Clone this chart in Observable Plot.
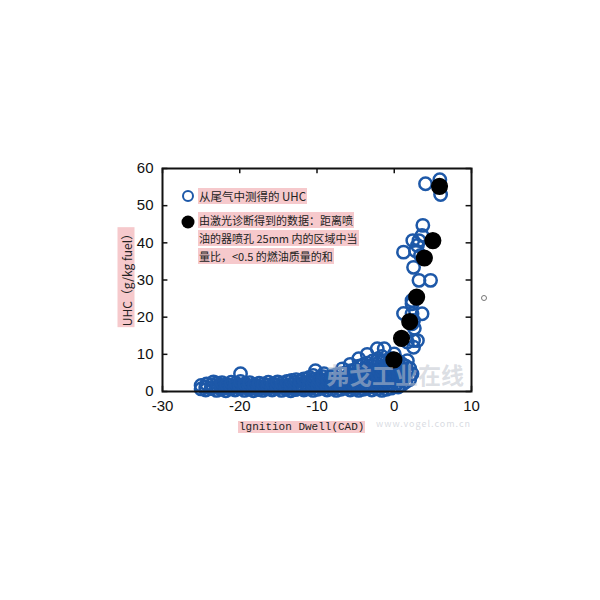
<!DOCTYPE html>
<html>
<head>
<meta charset="utf-8">
<script src="https://cdn.jsdelivr.net/npm/d3@7"></script>
<script src="https://cdn.jsdelivr.net/npm/@observablehq/plot@0.6"></script>
<style>
  html, body { margin: 0; padding: 0; background: #fff; }
  #wrap { position: relative; width: 600px; height: 600px; overflow: hidden; }
  #wrap svg { position: absolute; left: 0; top: 0; }
  .lab { position: absolute; font-family: "Noto Sans CJK SC", "DejaVu Sans", sans-serif; color: #222; white-space: nowrap; }
  .pink { background: #f6c9cc; padding: 0 1px; }
</style>
</head>
<body>
<div id="wrap"></div>
<script>
// ---- data ----
const xTicks = [-30, -20, -10, 0, 10];
const yTicks = [0, 10, 20, 30, 40, 50, 60];

// exhaust-measured UHC (open blue circles): [ignition dwell CAD, UHC g/kg fuel]
const exhaustUHC = [
  [-25.0,0.7],[-25.0,1.6],[-24.4,0.4],[-24.4,1.2],[-24.3,2.0],[-23.7,0.8],[-23.6,1.8],[-23.4,2.6],
  [-23.0,0.3],[-23.0,1.2],[-22.9,2.2],[-22.4,0.6],[-22.4,1.5],[-22.3,2.4],[-21.8,0.2],[-21.8,1.0],
  [-21.7,1.9],[-21.2,0.7],[-21.2,1.6],[-21.1,2.5],[-20.6,0.4],[-20.6,1.3],[-20.5,2.2],[-20.0,0.8],
  [-20.0,1.7],[-19.9,4.8],[-19.9,2.7],[-19.4,0.3],[-19.4,1.2],[-19.3,2.1],[-18.8,0.6],[-18.8,1.5],
  [-18.7,2.4],[-18.2,0.2],[-18.2,0.9],[-18.1,1.8],[-17.6,0.5],[-17.6,1.4],[-17.5,2.2],[-17.0,0.3],
  [-17.0,1.1],[-16.9,2.0],[-16.4,0.7],[-16.4,1.6],[-16.3,2.5],[-15.8,0.4],[-15.8,1.2],[-15.7,2.1],
  [-15.2,0.8],[-15.2,1.7],[-15.1,2.6],[-14.6,0.3],[-14.6,1.3],[-14.5,2.3],[-14.0,0.6],[-14.0,1.5],
  [-13.9,2.7],[-13.4,0.2],[-13.4,0.9],[-13.4,1.9],[-13.3,3.0],[-12.8,0.5],[-12.8,1.4],[-12.8,2.4],
  [-12.7,3.2],[-12.2,0.8],[-12.2,1.8],[-12.1,2.8],[-11.7,0.4],[-11.7,1.3],[-11.6,2.3],[-11.7,3.4],
  [-11.1,0.7],[-11.1,1.7],[-11.0,2.7],[-11.0,3.8],[-10.5,0.3],[-10.5,1.2],[-10.5,2.2],[-10.4,3.3],
  [-10.5,4.3],[-10.2,5.6],[-9.9,0.6],[-9.9,1.6],[-9.8,2.6],[-9.8,3.6],[-9.3,0.9],[-9.3,1.9],
  [-9.2,2.9],[-9.2,4.0],[-9.1,4.8],[-8.7,0.4],[-8.7,1.4],[-8.6,2.4],[-8.6,3.4],[-8.1,0.7],
  [-8.1,1.7],[-8.0,2.7],[-8.0,3.7],[-8.1,4.2],[-7.5,0.3],[-7.5,1.3],[-7.4,2.3],[-7.4,3.3],
  [-7.5,4.5],[-6.9,0.6],[-6.9,1.6],[-6.8,2.6],[-6.8,3.6],[-6.9,4.8],[-6.7,6.1],[-6.3,0.9],
  [-6.3,1.9],[-6.2,2.9],[-6.2,3.9],[-6.3,5.0],[-5.7,0.4],[-5.7,1.4],[-5.6,2.4],[-5.6,3.4],
  [-5.7,4.4],[-5.6,5.6],[-5.7,7.3],[-5.1,0.7],[-5.1,1.7],[-5.0,2.7],[-5.0,3.7],[-5.1,4.7],
  [-5.0,6.0],[-4.6,0.3],[-4.6,1.3],[-4.5,2.3],[-4.5,3.3],[-4.6,4.3],[-4.5,5.5],[-4.6,6.8],
  [-4.6,8.8],[-4.0,0.6],[-4.0,1.6],[-3.9,2.6],[-3.9,3.6],[-4.0,4.6],[-3.9,5.8],[-4.0,7.2],
  [-3.5,0.9],[-3.5,1.9],[-3.4,2.9],[-3.4,3.9],[-3.5,5.0],[-3.4,6.2],[-3.5,7.6],[-3.5,10.0],
  [-2.9,0.4],[-2.9,1.4],[-2.8,2.4],[-2.8,3.4],[-2.9,4.4],[-2.8,5.5],[-2.9,6.8],[-2.8,8.2],
  [-2.2,0.7],[-2.2,1.7],[-2.1,2.7],[-2.1,3.7],[-2.2,4.8],[-2.1,6.0],[-2.2,7.4],[-2.1,8.8],
  [-2.2,11.5],[-1.6,0.3],[-1.6,1.3],[-1.5,2.3],[-1.5,3.3],[-1.6,4.3],[-1.5,5.4],[-1.6,6.6],
  [-1.5,8.0],[-1.6,9.4],[-1.3,11.5],[-1.0,0.6],[-1.0,1.6],[-0.9,2.6],[-0.9,3.6],[-1.0,4.6],
  [-0.9,5.8],[-1.0,7.0],[-0.9,8.4],[-0.4,0.9],[-0.4,1.9],[-0.3,2.9],[-0.3,3.9],[-0.4,5.0],
  [-0.3,6.2],[-0.4,7.5],[-0.3,8.8],[0.0,10.1],[0.1,1.4],[0.1,3.4],[0.1,5.4],[0.5,1.2],
  [0.5,2.4],[0.6,3.6],[0.6,4.8],[0.5,6.0],[0.6,7.2],[0.5,8.2],[1.0,1.8],[1.0,3.0],
  [1.1,4.2],[1.0,5.6],[1.0,7.4],[1.5,2.6],[1.5,4.0],[1.6,5.4],[1.5,6.8],[1.7,8.3],
  [2.0,3.2],[2.1,4.6],[2.0,6.2],[2.3,4.8],
  [1.7,13.3],[2.5,11.9],[2.5,13.7],[3.0,13.7],[2.6,17.0],[2.5,19.1],[2.3,18.2],[1.2,21.0],
  [2.3,20.9],[3.6,20.9],[2.3,23.6],[2.3,24.5],[3.2,29.9],[4.7,29.9],[2.5,33.4],[3.4,36.6],
  [2.75,37.9],[1.2,37.5],[3.0,39.3],[2.4,40.6],[3.2,40.6],[3.6,42.0],[3.7,44.7],[4.05,55.9],
  [5.9,57.0],[6.0,53.0]
];

// laser-diagnostic in-cylinder estimate (filled black circles)
const laserUHC = [
  [-0.05,8.5],[0.94,14.3],[2.0,18.8],[2.9,25.4],[3.9,35.9],[5.0,40.6],[5.86,55.2]
];

const legendExhaust = "从尾气中测得的 UHC";
const legendLaser = ["由激光诊断得到的数据：距离喷", "油的器喷孔 25mm 内的区域中当", "量比，<0.5 的燃油质量的和"];
const xLabel = "lgnition Dwell(CAD)";
const yLabel = "UHC（g/kg fuel）";

const blue = "#1d58a8";

const chart = Plot.plot({
  width: 600,
  height: 600,
  marginLeft: 162,
  marginRight: 129,
  marginTop: 168,
  marginBottom: 209,
  style: { fontFamily: "'Liberation Sans', Arial, sans-serif", fontSize: "15px", color: "#111", background: "transparent", overflow: "visible" },
  x: { domain: [-30, 10], label: null },
  y: { domain: [0, 60], label: null },
  marks: [
    Plot.axisX(xTicks, { tickSize: 0, tickPadding: 9, tickFormat: d => String(d), fontSize: 15 }),
    Plot.axisY(yTicks, { tickSize: 0, tickPadding: 9, tickFormat: d => String(d), fontSize: 15 }),
    // inward tick marks on all four sides
    Plot.ruleX(xTicks, { x: d => d, y1: 0, y2: 1.4, stroke: "#111", strokeWidth: 1.5 }),
    Plot.ruleX(xTicks, { x: d => d, y1: 58.6, y2: 60, stroke: "#111", strokeWidth: 1.5 }),
    Plot.ruleY(yTicks, { y: d => d, x1: -30, x2: -29.3, stroke: "#111", strokeWidth: 1.5 }),
    Plot.ruleY(yTicks, { y: d => d, x1: 9.3, x2: 10, stroke: "#111", strokeWidth: 1.5 }),
    Plot.dot(exhaustUHC, { x: d => d[0], y: d => d[1], r: 6.2, stroke: blue, strokeWidth: 2.5, fill: "none" }),
    Plot.dot(laserUHC, { x: d => d[0], y: d => d[1], r: 7.8, fill: "#000", stroke: "#000" }),
    Plot.frame({ stroke: "#111", strokeWidth: 2 })
  ]
});

const wrap = document.getElementById("wrap");
wrap.appendChild(chart);

function addDiv(html, style, cls) {
  const d = document.createElement("div");
  d.className = "lab" + (cls ? " " + cls : "");
  d.innerHTML = html;
  Object.assign(d.style, style);
  wrap.appendChild(d);
  return d;
}

// legend (inside plot, top-left)
addDiv('<svg width="14" height="14" style="position:absolute;left:-17px;top:1px"><circle cx="7" cy="7" r="5" fill="none" stroke="' + blue + '" stroke-width="2"/></svg><span class="pink">' + legendExhaust + '</span>',
  { left: "198px", top: "188px", fontSize: "11.5px", lineHeight: "17px" });
addDiv('<svg width="16" height="16" style="position:absolute;left:-18px;top:3px"><circle cx="8" cy="8" r="6.5" fill="#000"/></svg>' +
  legendLaser.map(s => '<span class="pink">' + s + '</span>').join("<br>"),
  { left: "198px", top: "211px", fontSize: "11px", lineHeight: "18px" });

// axis titles
addDiv('<span class="pink">' + xLabel + '</span>', { left: "238px", top: "419px", fontSize: "11px", lineHeight: "17px", fontFamily: "'Liberation Mono', 'DejaVu Sans Mono', monospace" });
addDiv('<span class="pink">' + yLabel + '</span>', { left: "126px", top: "277px", fontSize: "12px", lineHeight: "17px", transform: "translate(-50%,-50%) rotate(-90deg)" });

// stray mark at right of the frame
addDiv('<svg width="8" height="8"><circle cx="4" cy="4" r="2.5" fill="none" stroke="#777" stroke-width="1"/></svg>', { left: "480px", top: "294px" });

// faint watermark
addDiv('弗戈工业在线', { left: "326px", top: "360px", fontSize: "23px", lineHeight: "28px", color: "rgba(190,195,205,0.55)", fontWeight: "bold" });
addDiv('www.vogel.com.cn', { left: "376px", top: "418px", fontSize: "9px", lineHeight: "11px", color: "rgba(190,195,205,0.6)", letterSpacing: "1px" });
</script>
</body>
</html>
